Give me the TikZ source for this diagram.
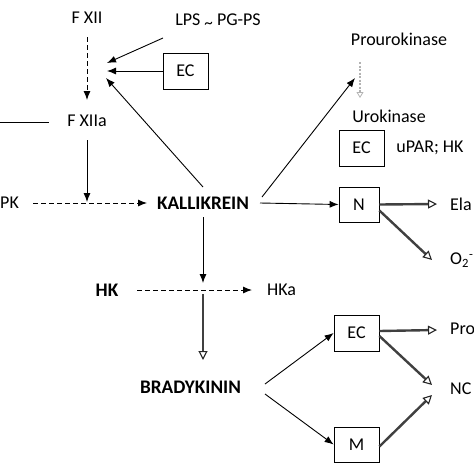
\documentclass[tikz,border=0pt]{standalone}
\usepackage{fontspec}
\setmainfont{Carlito}
\usetikzlibrary{arrows.meta}
\begin{document}
\begin{tikzpicture}[x=1pt,y=-1pt,
  every node/.style={font=\fontsize{18}{21}\selectfont, inner sep=0pt},
  bold/.style={font=\fontsize{19.2}{22}\selectfont\bfseries},
  cell/.style={draw, line width=0.8pt, minimum width=45pt, minimum height=36pt},
  thin/.style={line width=0.9pt, -{Latex[length=9pt,width=7pt]}},
  dsh/.style={line width=0.9pt, dash pattern=on 4.5pt off 3.5pt, -{Latex[length=9pt,width=7pt]}},
  fat/.style={line width=2.4pt, black!75, -{Triangle[open,length=9pt,width=9pt,line width=1.1pt,black!85]}},
  gdash/.style={line width=2.2pt, gray!60, dash pattern=on 2pt off 1.5pt, -{Triangle[open,length=6pt,width=7pt,line width=0.8pt]}}
]
\useasboundingbox (0,0) rectangle (474,474);
\clip (0,0) rectangle (474,474);
% nodes
\node (fxii) at (87,18) {F XII};
\node (lps) at (218,21) {LPS \raisebox{-3pt}{\fontsize{17}{17}\selectfont\char"7E} PG-PS};
\node[cell] (ec1) at (185.5,71) {EC};
\node (fxiia) at (87,121) {F XIIa};
\node[anchor=west] (pk) at (0,203) {PK};
\node[bold] (kal) at (203,203) {KALLIKREIN};
\node (pro) at (399,39) {Prourokinase};
\node (uro) at (389,116) {Urokinase};
\node[cell] (ec2) at (361.5,148) {EC};
\node (upar) at (430,148) {uPAR; HK};
\node[cell, minimum width=40pt, minimum height=35pt] (nbox) at (359,204.5) {N};
\node[anchor=west] (ela) at (450,204) {Ela};
\node[anchor=west] (otwo) at (450,260) {O\textsubscript{2}\textsuperscript{-}};
\node[bold] (hk) at (107,290) {HK};
\node[anchor=west] (hka) at (267,290) {HKa};
\node[bold] (brady) at (190.5,387) {BRADYKININ};
\node[cell] (ec3) at (356.5,333) {EC};
\node[cell, minimum height=35pt] (mbox) at (356.5,444.5) {M};
\node[anchor=west] (pro2) at (450,329) {Pro};
\node[anchor=west] (nc) at (450,389) {NC};
% connector end points
\coordinate (left) at (0,122);
\coordinate (fxiiL) at (49,122);
\coordinate (fxiiS) at (87,37);
\coordinate (fxiiaS) at (87,140);
\coordinate (g1) at (107,63);
\coordinate (g2) at (107,71);
\coordinate (g3) at (106,78);
\coordinate (lpsS) at (163,38);
\coordinate (fxtip) at (87,100);
\coordinate (pkline) at (87,202);
\coordinate (pkE) at (33,203);
\coordinate (kalW) at (147,203);
\coordinate (kalN) at (203,187);
\coordinate (kalS) at (203,217);
\coordinate (kalNE) at (262,197);
\coordinate (kalE) at (260,203);
\coordinate (kdown) at (203,283);
\coordinate (hkE) at (137,290);
\coordinate (hkaW) at (252,290);
\coordinate (bstart) at (203,294);
\coordinate (bend) at (203,360);
\coordinate (uarr) at (355,78);
\coordinate (gtop) at (360,62);
\coordinate (gbot) at (360,98);
\coordinate (elaW) at (437,204);
\coordinate (otwoW) at (432,260);
\coordinate (bradyNE) at (265,384);
\coordinate (bradySE) at (265,394);
\coordinate (proW) at (437,330);
\coordinate (ncA) at (432,385);
\coordinate (ncB) at (432,395);
% connectors
\draw[dsh] (fxiiS) -- (fxtip);
\draw[thin] (lpsS) -- (g1);
\draw[thin] (ec1.west) -- (g2);
\draw[thin] (kalN) -- (g3);
\draw[line width=0.8pt] (left) -- (fxiiL);
\draw[thin] (fxiiaS) -- (pkline);
\draw[dsh] (pkE) -- (kalW);
\draw[thin] (kalS) -- (kdown);
\draw[thin] (kalNE) -- (uarr);
\draw[gdash] (gtop) -- (gbot);
\draw[thin] (kalE) -- (nbox.west);
\draw[fat] (nbox.east) -- (elaW);
\draw[fat] ([yshift=-6pt]nbox.east) -- (otwoW);
\draw[dsh] (hkE) -- (hkaW);
\draw[fat] (bstart) -- (bend);
\draw[thin] (bradyNE) -- (ec3.west);
\draw[thin] (bradySE) -- (mbox.west);
\draw[fat] ([yshift=2pt]ec3.east) -- (proW);
\draw[fat] ([yshift=-3pt]ec3.east) -- (ncA);
\draw[fat] ([yshift=-2pt]mbox.east) -- (ncB);
\end{tikzpicture}
\end{document}
